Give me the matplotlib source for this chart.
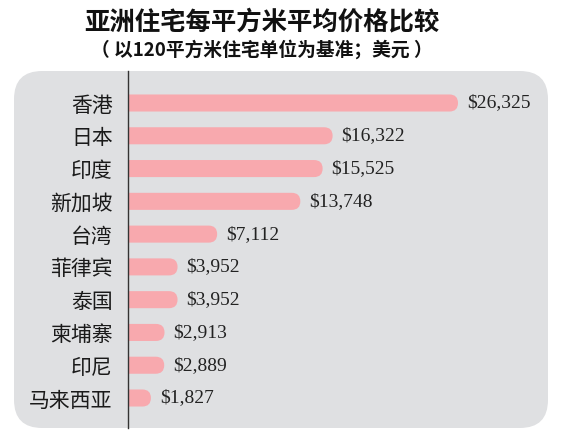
import matplotlib.pyplot as plt
from matplotlib.patches import FancyBboxPatch

plt.rcParams['font.family'] = ['Noto Sans CJK SC', 'DejaVu Sans']

countries = ['香港', '日本', '印度', '新加坡', '台湾', '菲律宾', '泰国', '柬埔寨', '印尼', '马来西亚']
prices = [26325, 16322, 15525, 13748, 7112, 3952, 3952, 2913, 2889, 1827]
value_labels = ['$26,325', '$16,322', '$15,525', '$13,748', '$7,112',
                '$3,952', '$3,952', '$2,913', '$2,889', '$1,827']

title = '亚洲住宅每平方米平均价格比较'
subtitle = '（ 以120平方米住宅单位为基准；美元 ）'

W, H = 563, 430
fig = plt.figure(figsize=(W / 100, H / 100), dpi=100)
fig.patch.set_facecolor('white')

# grey rounded panel behind the bars
panel = FancyBboxPatch((14 / W, 2 / H), (548 - 14) / W, (359 - 2) / H,
                       boxstyle='round,pad=0,rounding_size=0.05',
                       mutation_aspect=W / H,
                       transform=fig.transFigure, facecolor='#dfe0e2',
                       edgecolor='none', zorder=-5)
fig.patches.append(panel)

# axes: left edge at the baseline (x=128px), top 71px, bottom 428px
ax = fig.add_axes([128 / W, 2 / H, (548 - 128) / W, (359 - 2) / H])
ax.set_facecolor('none')
ax.set_zorder(2)

px_per_unit_x = 330 / 26325
row_px = (398 - 103) / 9
ax.set_xlim(0, 420 / px_per_unit_x)
ax.set_ylim(9 + (428 - 398) / row_px, -(103 - 71) / row_px)

bar_h = 0.52
rad_px = bar_h * row_px / 2
rad_x = rad_px / px_per_unit_x
aspect = (1 / row_px) / (1 / px_per_unit_x)

for i, (v, lab) in enumerate(zip(prices, value_labels)):
    left = -rad_x
    bar = FancyBboxPatch((left, i - bar_h / 2), v - left, bar_h,
                         boxstyle='round,pad=0,rounding_size=%f' % rad_x,
                         mutation_aspect=aspect,
                         facecolor='#f8a9ae', edgecolor='none', zorder=2)
    ax.add_patch(bar)
    ax.text(v + 9 / px_per_unit_x, i, lab, va='center', ha='left',
            fontsize=14, family=['Liberation Serif', 'DejaVu Serif'],
            color='#222222')

ax.set_yticks(range(len(countries)))
ax.set_yticklabels(countries, fontsize=15, color='#1a1a1a')
ax.tick_params(axis='y', length=0, pad=11)
ax.set_xticks([])
for s in ['top', 'right', 'bottom']:
    ax.spines[s].set_visible(False)
ax.spines['left'].set_color('#333333')
ax.spines['left'].set_linewidth(1.0)

fig.text(0.465, 1 - 22 / H, title, ha='center', va='center',
         fontsize=18.3, fontweight='bold', color='#111111')
fig.text(0.465, 1 - 50 / H, subtitle, ha='center', va='center',
         fontsize=13.5, fontweight='bold', color='#111111')

fig.savefig('out.png', dpi=100)
